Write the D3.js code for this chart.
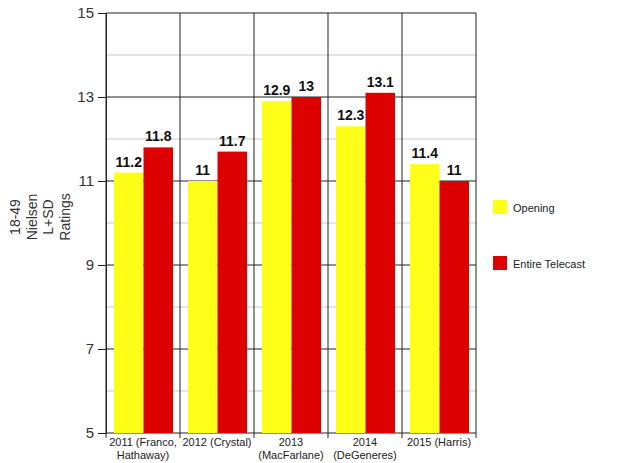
<!DOCTYPE html>
<html>
<head>
<meta charset="utf-8">
<script src="https://cdn.jsdelivr.net/npm/d3@7"></script>
<style>
  body { margin: 0; background: #fff; }
  svg { font-family: "Liberation Sans", Arial, sans-serif; }
</style>
</head>
<body>
<svg width="618" height="463"></svg>
<script>
// data
var years = ["2011", "2012", "2013", "2014", "2015"];
var yearLabels = [["2011 (Franco,", "Hathaway)"], ["2012 (Crystal)"], ["2013", "(MacFarlane)"], ["2014", "(DeGeneres)"], ["2015 (Harris)"]];
var seriesNames = ["Opening", "Entire Telecast"];
var opening = [11.2, 11, 12.9, 12.3, 11.4];
var entire = [11.8, 11.7, 13, 13.1, 11];
var majorTicks = [5, 7, 9, 11, 13, 15];
var minorTicks = [6, 8, 10, 12, 14];
var colors = ["#ffff1a", "#dd0000"];

var svg = d3.select("svg");

var plotLeft = 106, plotRight = 476, plotTop = 13, plotBottom = 433;

var xScale = d3.scaleBand()
    .domain(years)
    .range([plotLeft, plotRight]);

var xInner = d3.scaleBand()
    .domain(seriesNames)
    .range([8, xScale.bandwidth() - 7]);

var yScale = d3.scaleLinear()
    .domain([5, 15])
    .range([plotBottom, plotTop]);

// minor grid
svg.selectAll(".minor").data(minorTicks).enter().append("line")
    .attr("x1", plotLeft).attr("x2", plotRight)
    .attr("y1", function(d) { return yScale(d); })
    .attr("y2", function(d) { return yScale(d); })
    .attr("stroke", "#c8c8c8");

// major grid
svg.selectAll(".major").data(majorTicks).enter().append("line")
    .attr("x1", plotLeft).attr("x2", plotRight)
    .attr("y1", function(d) { return yScale(d); })
    .attr("y2", function(d) { return yScale(d); })
    .attr("stroke", "#222");

// vertical category dividers
var dividers = years.map(function(y) { return xScale(y); }).concat([plotRight]);
svg.selectAll(".div").data(dividers).enter().append("line")
    .attr("x1", function(d) { return d; }).attr("x2", function(d) { return d; })
    .attr("y1", plotTop).attr("y2", plotBottom + 5)
    .attr("stroke", "#222");

// bars
var rows = years.map(function(y, i) {
    return { year: y, values: [opening[i], entire[i]] };
});

var groups = svg.selectAll(".grp").data(rows).enter().append("g")
    .attr("transform", function(d) { return "translate(" + xScale(d.year) + ",0)"; });

groups.selectAll("rect")
    .data(function(d) { return d.values.map(function(v, j) { return { name: seriesNames[j], v: v, j: j }; }); })
    .enter().append("rect")
    .attr("x", function(d) { return xInner(d.name); })
    .attr("width", xInner.bandwidth())
    .attr("y", function(d) { return yScale(d.v); })
    .attr("height", function(d) { return plotBottom - yScale(d.v); })
    .attr("fill", function(d) { return colors[d.j]; });

groups.selectAll("text.val")
    .data(function(d) { return d.values.map(function(v, j) { return { name: seriesNames[j], v: v }; }); })
    .enter().append("text")
    .attr("x", function(d) { return xInner(d.name) + xInner.bandwidth() / 2; })
    .attr("y", function(d) { return yScale(d.v) - 6; })
    .attr("text-anchor", "middle")
    .attr("font-size", 14)
    .attr("font-weight", "bold")
    .attr("fill", "#111")
    .text(function(d) { return d.v; });

// y axis
var axis = d3.axisLeft(yScale).tickValues(majorTicks).tickSize(8).tickPadding(4);
var gAxis = svg.append("g").attr("transform", "translate(" + plotLeft + ",0)").call(axis);
gAxis.select(".domain").attr("stroke", "#222");
gAxis.selectAll(".tick line").attr("stroke", "#222");
gAxis.selectAll(".tick text")
    .attr("font-size", 15)
    .attr("font-family", "Liberation Sans, Arial, sans-serif")
    .attr("fill", "#333");

// category labels
yearLabels.forEach(function(lines, i) {
    var cx = xScale(years[i]) + xScale.bandwidth() / 2;
    var t = svg.append("text")
        .attr("x", cx)
        .attr("y", 446)
        .attr("text-anchor", "middle")
        .attr("font-size", 11)
        .attr("fill", "#222");
    lines.forEach(function(l, k) {
        t.append("tspan")
            .attr("x", cx)
            .attr("dy", k === 0 ? 0 : 13)
            .text(l);
    });
});

// y axis title
var titleLines = ["18-49", "Nielsen", "L+SD", "Ratings"];
var yt = svg.append("text")
    .attr("transform", "translate(20,217) rotate(-90)")
    .attr("text-anchor", "middle")
    .attr("font-size", 14)
    .attr("fill", "#333");
titleLines.forEach(function(l, k) {
    yt.append("tspan").attr("x", 0).attr("dy", k === 0 ? 0 : 16.5).text(l);
});

// legend
var legend = svg.selectAll(".leg").data(seriesNames).enter().append("g")
    .attr("transform", function(d, i) { return "translate(493," + (200 + i * 56) + ")"; });
legend.append("rect")
    .attr("width", 14).attr("height", 14)
    .attr("fill", function(d, i) { return colors[i]; });
legend.append("text")
    .attr("x", 20).attr("y", 12)
    .attr("font-size", 11)
    .attr("fill", "#222")
    .text(function(d) { return d; });
</script>
</body>
</html>
